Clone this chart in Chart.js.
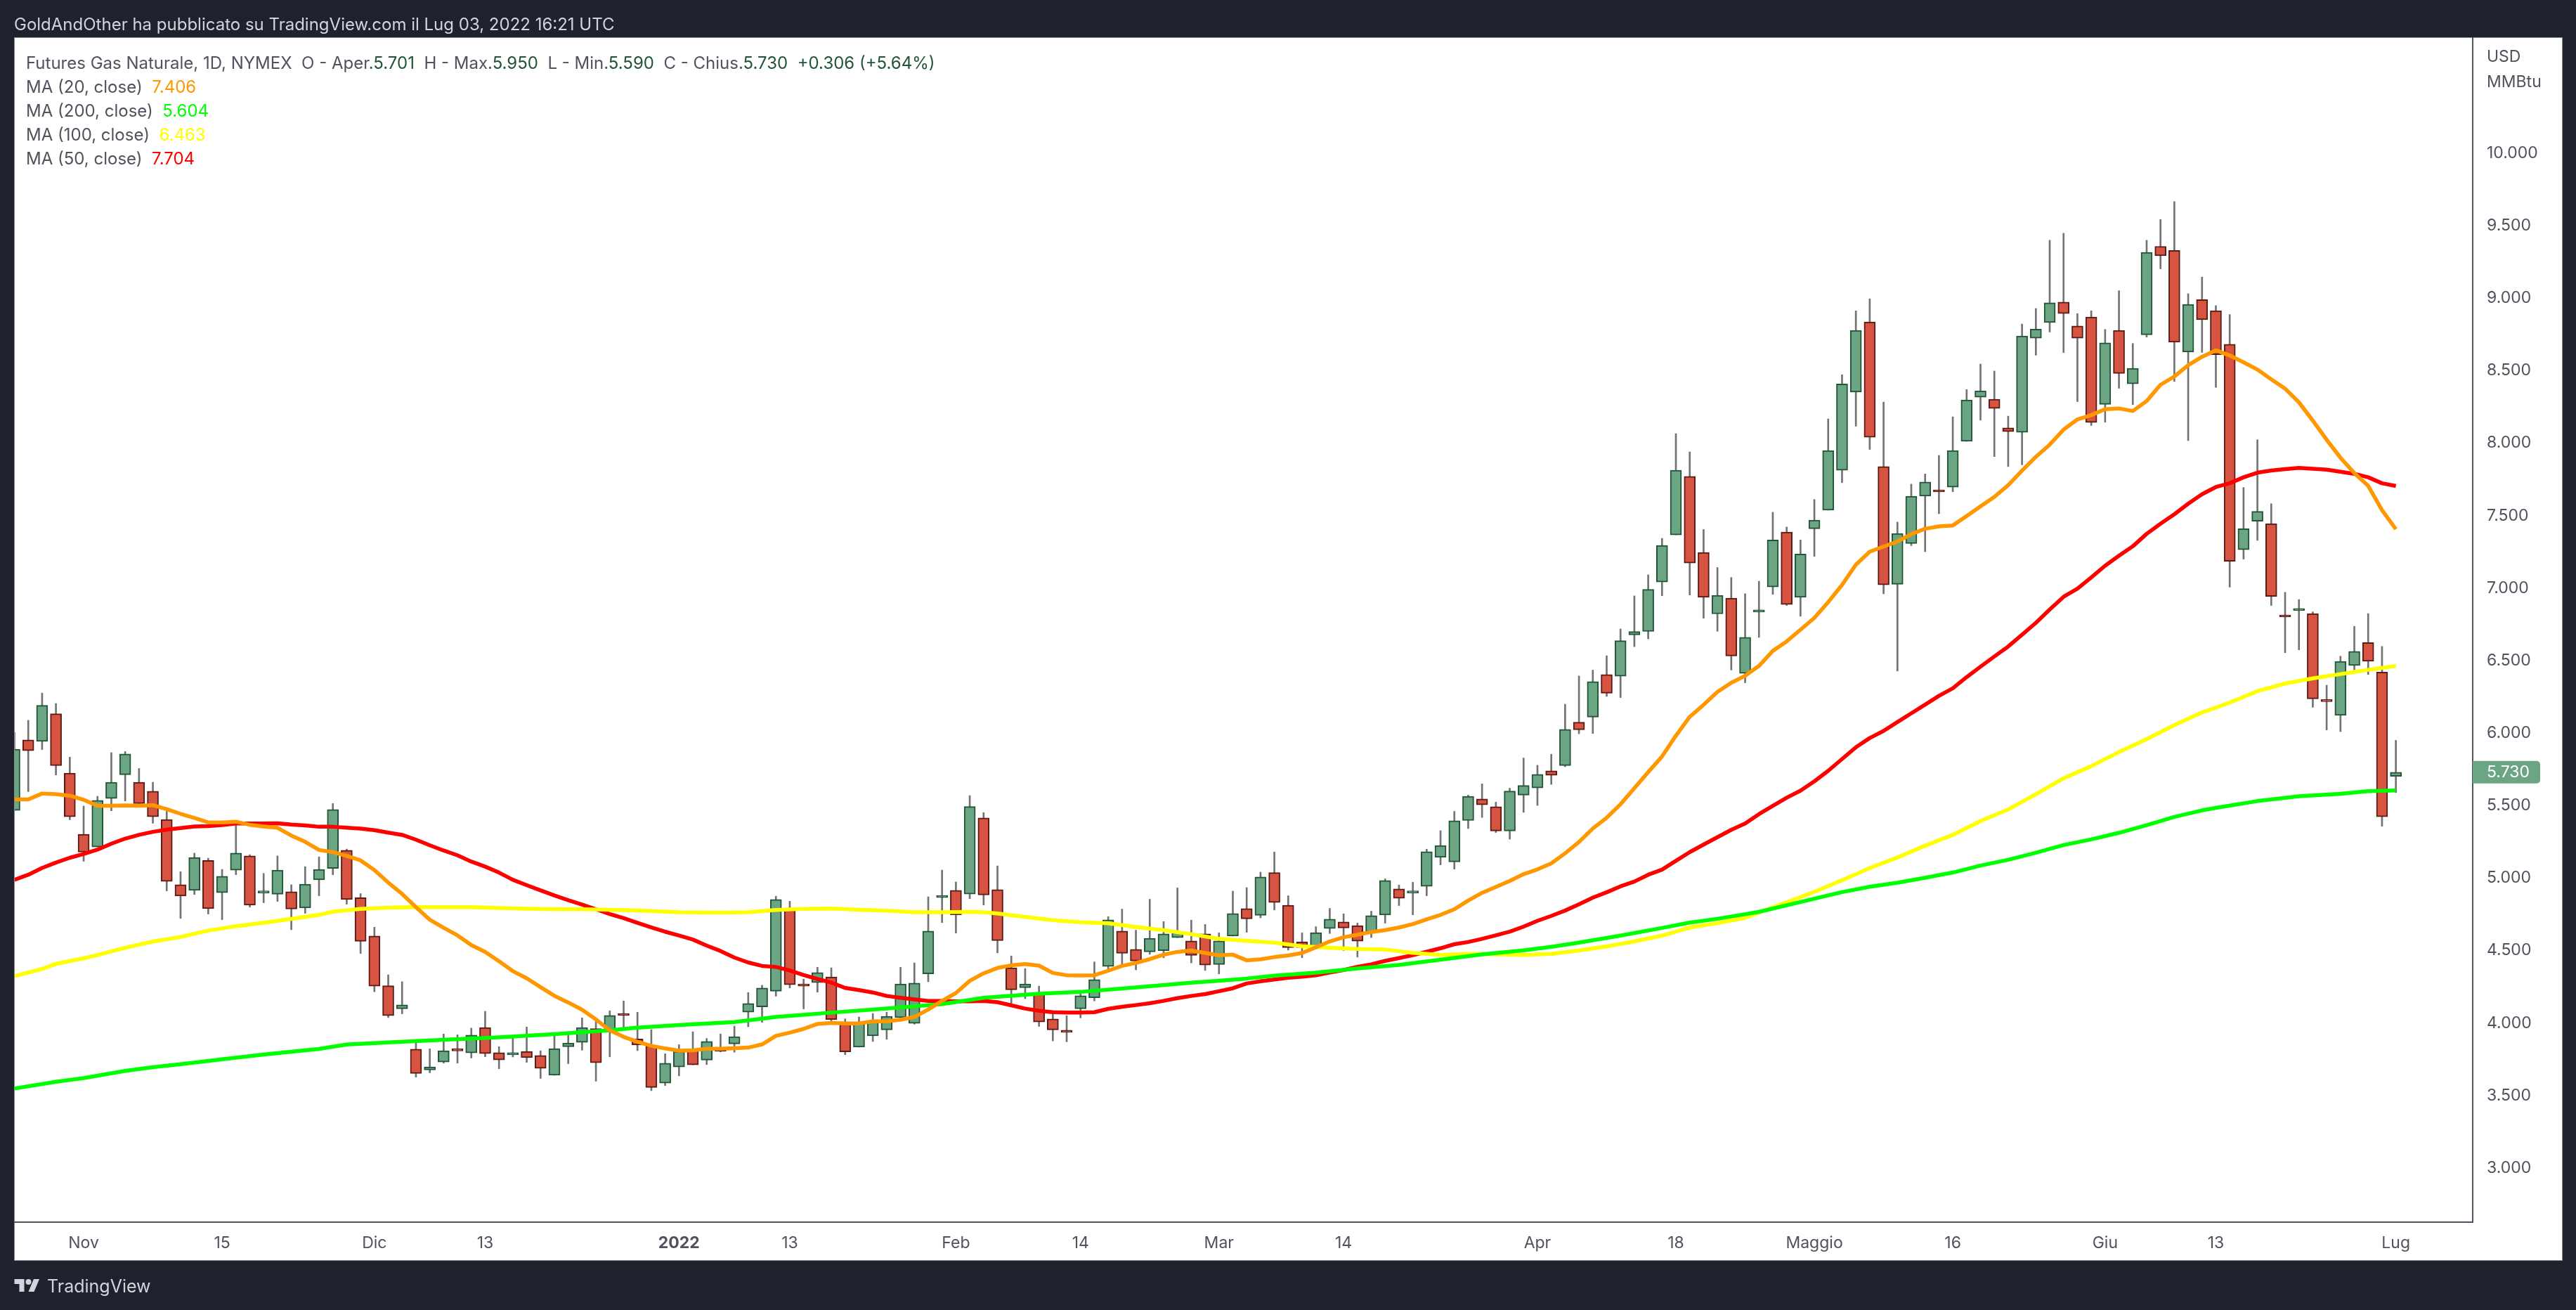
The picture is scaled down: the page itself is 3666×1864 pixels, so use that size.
<!DOCTYPE html>
<html>
<head>
<meta charset="utf-8">
<title>Futures Gas Naturale</title>
<script src="https://cdn.jsdelivr.net/npm/chart.js@4"></script>
<style>
  html, body { margin: 0; padding: 0; background: #1e222d; width: 3666px; height: 1864px; overflow: hidden; }
  body { position: relative; font-family: Inter, sans-serif; }
  #panel { position: absolute; left: 20px; top: 53px; width: 3625px; height: 1739px; background: #fff; border: 1px solid #8a8d96; }
  canvas { position: absolute; left: 0; top: 0; }
  .txt { position: absolute; white-space: pre; font-size: 24px; line-height: 34px; color: #50535e; }
  .up { color: #225437; }
  #published { left: 20px; top: 18px; color: #d1d4dc; }
  #brand { left: 67px; top: 1811px; color: #d1d4dc; font-size: 25px; line-height: 38px; }
  #logo { position: absolute; left: 20px; top: 1816px; }
  #unit { left: 3539px; top: 62px; line-height: 36px; font-size: 23px; }
</style>
</head>
<body>
<div id="panel"></div>
<canvas id="chart" width="3666" height="1864"></canvas>
<div class="txt" id="published">GoldAndOther ha pubblicato su TradingView.com il Lug 03, 2022 16:21 UTC</div>
<div class="txt" style="left:37px;top:73px">Futures Gas Naturale, 1D, NYMEX  O - Aper.<span class="up">5.701</span>  H - Max.<span class="up">5.950</span>  L - Min.<span class="up">5.590</span>  C - Chius.<span class="up">5.730</span>  <span class="up">+0.306 (+5.64%)</span></div>
<div class="txt" style="left:37px;top:107px">MA (20, close)  <span style="color:#ff9800">7.406</span></div>
<div class="txt" style="left:37px;top:141px">MA (200, close)  <span style="color:#00ff00">5.604</span></div>
<div class="txt" style="left:37px;top:175px">MA (100, close)  <span style="color:#ffff00">6.463</span></div>
<div class="txt" style="left:37px;top:209px">MA (50, close)  <span style="color:#ff0000">7.704</span></div>
<div class="txt" id="unit">USD
MMBtu</div>
<svg id="logo" width="37" height="28" viewBox="0 0 36 28" fill="#d1d4dc"><path d="M14 22H7V11H0V4h14v18zM28 22h-8l7.5-18h8L28 22z"/><circle cx="20" cy="8" r="4"/></svg>
<div class="txt" id="brand">TradingView</div>
<script>
// Daily bars from 25 Oct 2021 to 1 Jul 2022
const openPrices = [
  5.466, 5.953, 5.943, 6.133, 5.724, 5.302, 5.215, 5.549, 5.713, 5.661,
  5.599, 5.404, 4.954, 4.915, 5.122, 4.899, 5.055, 5.153, 4.897, 4.889,
  4.906, 4.794, 4.988, 5.066, 5.192, 4.865, 4.601, 4.257, 4.099, 3.82,
  3.677, 3.731, 3.811, 3.794, 3.969, 3.796, 3.781, 3.805, 3.776, 3.64,
  3.837, 3.867, 3.962, 3.955, 4.056, 3.89, 3.843, 3.586, 3.697, 3.816,
  3.745, 3.834, 3.856, 4.075, 4.112, 4.22, 4.78, 4.261, 4.279, 4.318,
  4.008, 3.834, 3.912, 3.953, 4.038, 3.998, 4.339, 4.865, 4.916, 4.89,
  5.415, 4.92, 4.381, 4.244, 4.2, 4.029, 3.941, 4.099, 4.175, 4.391,
  4.634, 4.508, 4.491, 4.5, 4.589, 4.567, 4.615, 4.404, 4.6, 4.789,
  4.743, 5.038, 4.813, 4.561, 4.526, 4.652, 4.698, 4.672, 4.628, 4.745,
  4.925, 4.897, 4.943, 5.143, 5.112, 5.397, 5.546, 5.492, 5.325, 5.572,
  5.622, 5.739, 5.776, 6.075, 6.11, 6.403, 6.392, 6.677, 6.701, 7.042,
  7.367, 7.77, 7.246, 6.822, 6.931, 6.412, 6.835, 7.008, 7.386, 6.936,
  7.409, 7.537, 7.812, 8.351, 8.835, 7.838, 7.026, 7.307, 7.634, 7.666,
  7.696, 8.012, 8.316, 8.302, 8.105, 8.074, 8.724, 8.831, 8.972, 8.807,
  8.87, 8.267, 8.777, 8.408, 8.747, 9.357, 9.329, 8.628, 8.989, 8.913,
  8.681, 7.265, 7.461, 7.444, 6.802, 6.845, 6.824, 6.219, 6.122, 6.466,
  6.624, 6.42, 5.701
];
const highPrices = [
  6.005, 6.088, 6.276, 6.204, 5.834, 5.497, 5.564, 5.865, 5.873, 5.756,
  5.661, 5.46, 5.044, 5.172, 5.137, 5.06, 5.384, 5.161, 5.032, 5.153,
  4.954, 5.079, 5.146, 5.514, 5.2, 4.893, 4.661, 4.333, 4.285, 3.863,
  3.822, 3.924, 3.919, 3.965, 4.081, 3.837, 3.902, 3.973, 3.809, 3.913,
  3.934, 4.036, 4.01, 4.085, 4.153, 4.075, 3.955, 3.788, 3.851, 3.94,
  3.894, 3.925, 3.979, 4.211, 4.261, 4.875, 4.84, 4.303, 4.385, 4.381,
  4.029, 4.042, 4.066, 4.075, 4.385, 4.415, 4.871, 5.055, 4.973, 5.569,
  5.452, 5.084, 4.463, 4.376, 4.255, 4.075, 4.051, 4.215, 4.422, 4.734,
  4.786, 4.641, 4.854, 4.7, 4.932, 4.71, 4.68, 4.622, 4.91, 4.934,
  5.041, 5.18, 4.878, 4.622, 4.665, 4.791, 4.754, 4.69, 4.772, 4.995,
  4.952, 4.971, 5.199, 5.327, 5.46, 5.572, 5.65, 5.524, 5.62, 5.828,
  5.778, 5.854, 6.199, 6.394, 6.434, 6.533, 6.718, 6.946, 7.091, 7.343,
  8.065, 7.939, 7.404, 7.142, 7.073, 6.961, 7.047, 7.523, 7.421, 7.332,
  7.611, 8.167, 8.471, 8.912, 8.995, 8.283, 7.455, 7.717, 7.787, 7.915,
  8.181, 8.369, 8.545, 8.497, 8.186, 8.821, 8.928, 9.399, 9.447, 8.893,
  8.912, 8.784, 9.051, 8.687, 9.399, 9.542, 9.665, 9.03, 9.145, 8.948,
  8.886, 7.694, 8.023, 7.582, 6.971, 6.921, 6.836, 6.33, 6.53, 6.736,
  6.824, 6.598, 5.95
];
const lowPrices = [
  5.466, 5.596, 5.886, 5.711, 5.402, 5.116, 5.215, 5.464, 5.531, 5.514,
  5.378, 4.912, 4.722, 4.887, 4.752, 4.713, 5.023, 4.8, 4.83, 4.839,
  4.644, 4.757, 4.878, 5.023, 4.82, 4.48, 4.216, 4.038, 4.064, 3.627,
  3.657, 3.724, 3.724, 3.759, 3.768, 3.685, 3.766, 3.729, 3.618, 3.64,
  3.72, 3.813, 3.599, 3.767, 3.964, 3.81, 3.534, 3.569, 3.636, 3.712,
  3.714, 3.801, 3.799, 3.975, 4.005, 4.185, 4.242, 4.098, 4.213, 4.01,
  3.782, 3.834, 3.873, 3.888, 4.029, 3.992, 4.285, 4.693, 4.621, 4.858,
  4.814, 4.484, 4.112, 4.168, 3.977, 3.877, 3.871, 4.036, 4.153, 4.372,
  4.4, 4.367, 4.474, 4.45, 4.589, 4.415, 4.363, 4.339, 4.6, 4.626,
  4.726, 4.78, 4.503, 4.451, 4.526, 4.618, 4.501, 4.455, 4.59, 4.689,
  4.81, 4.747, 4.878, 5.091, 5.062, 5.342, 5.418, 5.314, 5.268, 5.453,
  5.501, 5.646, 5.768, 5.995, 5.997, 6.253, 6.245, 6.596, 6.65, 6.947,
  7.367, 6.952, 6.792, 6.702, 6.435, 6.347, 6.66, 6.957, 6.88, 6.806,
  7.219, 7.537, 7.727, 8.116, 7.956, 6.961, 6.428, 7.293, 7.251, 7.513,
  7.664, 8.012, 8.158, 7.907, 7.838, 7.85, 8.606, 8.766, 8.624, 8.286,
  8.121, 8.144, 8.378, 8.265, 8.731, 9.202, 8.425, 8.017, 8.625, 8.384,
  7.006, 7.2, 7.329, 6.88, 6.554, 6.574, 6.178, 6.022, 6.01, 6.436,
  6.404, 5.358, 5.59
];
const closePrices = [
  5.888, 5.878, 6.191, 5.776, 5.423, 5.179, 5.536, 5.661, 5.856, 5.514,
  5.423, 4.977, 4.876, 5.142, 4.789, 5.012, 5.172, 4.813, 4.9, 5.055,
  4.787, 4.958, 5.06, 5.473, 4.852, 4.564, 4.255, 4.051, 4.125, 3.653,
  3.698, 3.809, 3.808, 3.917, 3.789, 3.746, 3.796, 3.761, 3.688, 3.824,
  3.863, 3.969, 3.727, 4.053, 4.052, 3.849, 3.556, 3.723, 3.806, 3.712,
  3.873, 3.805, 3.906, 4.135, 4.242, 4.853, 4.265, 4.255, 4.348, 4.025,
  3.801, 4.0, 4.01, 4.047, 4.27, 4.276, 4.634, 4.868, 4.747, 5.493,
  4.884, 4.569, 4.229, 4.27, 4.007, 3.953, 3.937, 4.188, 4.3, 4.712,
  4.481, 4.428, 4.585, 4.615, 4.63, 4.467, 4.4, 4.567, 4.756, 4.719,
  5.008, 4.832, 4.52, 4.52, 4.624, 4.717, 4.656, 4.565, 4.741, 4.984,
  4.86, 4.902, 5.182, 5.225, 5.396, 5.564, 5.505, 5.325, 5.6, 5.639,
  5.715, 5.709, 6.026, 6.023, 6.355, 6.275, 6.637, 6.7, 6.991, 7.294,
  7.813, 7.173, 6.936, 6.95, 6.532, 6.66, 6.84, 7.332, 6.887, 7.235,
  7.469, 7.949, 8.408, 8.777, 8.04, 7.022, 7.376, 7.634, 7.731, 7.663,
  7.949, 8.297, 8.36, 8.239, 8.079, 8.738, 8.786, 8.967, 8.893, 8.724,
  8.142, 8.691, 8.48, 8.515, 9.315, 9.292, 8.696, 8.957, 8.851, 8.61,
  7.185, 7.409, 7.529, 6.942, 6.8, 6.848, 6.236, 6.217, 6.495, 6.563,
  6.495, 5.423, 5.73
];

// MA 20 and MA 50 have a value on every bar
const ma20Values = [
  5.542, 5.542, 5.583, 5.579, 5.568, 5.54, 5.499, 5.499, 5.501, 5.499,
  5.503, 5.475, 5.443, 5.414, 5.384, 5.384, 5.389, 5.367, 5.356, 5.347,
  5.293, 5.25, 5.194, 5.179, 5.153, 5.122, 5.055, 4.969, 4.891, 4.8,
  4.713, 4.657, 4.605, 4.538, 4.491, 4.426, 4.358, 4.309, 4.248, 4.188,
  4.142, 4.092, 4.025, 3.95, 3.905, 3.871, 3.843, 3.825, 3.81, 3.812,
  3.823, 3.823, 3.827, 3.831, 3.853, 3.912, 3.934, 3.96, 3.994, 4.001,
  3.998, 3.998, 4.012, 4.012, 4.023, 4.042, 4.094, 4.153, 4.207, 4.291,
  4.343, 4.38, 4.398, 4.407, 4.396, 4.346, 4.33, 4.328, 4.33, 4.361,
  4.394, 4.415, 4.441, 4.472, 4.491, 4.5, 4.483, 4.468, 4.472, 4.433,
  4.44, 4.455, 4.466, 4.483, 4.522, 4.563, 4.592, 4.609, 4.628, 4.641,
  4.659, 4.683, 4.715, 4.746, 4.785, 4.845, 4.898, 4.939, 4.98, 5.027,
  5.06, 5.101, 5.171, 5.249, 5.342, 5.416, 5.509, 5.62, 5.731, 5.839,
  5.982, 6.112, 6.195, 6.284, 6.347, 6.395, 6.463, 6.567, 6.632, 6.713,
  6.794, 6.903, 7.022, 7.161, 7.251, 7.286, 7.321, 7.372, 7.409, 7.425,
  7.432, 7.497, 7.564, 7.629, 7.71, 7.81, 7.905, 7.989, 8.093, 8.163,
  8.193, 8.234, 8.239, 8.221, 8.29, 8.402, 8.459, 8.537, 8.595, 8.64,
  8.604, 8.557, 8.507, 8.44, 8.375, 8.281, 8.155, 8.023, 7.899, 7.793,
  7.705, 7.538, 7.406
];
const ma50Values = [
  4.988, 5.023, 5.07, 5.107, 5.14, 5.166, 5.196, 5.237, 5.272, 5.298,
  5.319, 5.334, 5.345, 5.356, 5.358, 5.365, 5.376, 5.376, 5.376, 5.378,
  5.369, 5.363, 5.354, 5.354, 5.347, 5.341, 5.33, 5.313, 5.298, 5.265,
  5.226, 5.19, 5.157, 5.114, 5.079, 5.038, 4.988, 4.951, 4.915, 4.88,
  4.848, 4.817, 4.785, 4.752, 4.724, 4.691, 4.66, 4.63, 4.604, 4.576,
  4.534, 4.497, 4.452, 4.418, 4.394, 4.387, 4.363, 4.331, 4.304, 4.279,
  4.242, 4.228, 4.211, 4.187, 4.174, 4.163, 4.153, 4.153, 4.15, 4.15,
  4.153, 4.144, 4.122, 4.1, 4.085, 4.075, 4.072, 4.072, 4.075, 4.098,
  4.113, 4.124, 4.137, 4.153, 4.172, 4.187, 4.2, 4.22, 4.24, 4.273,
  4.288, 4.3, 4.312, 4.32, 4.329, 4.348, 4.366, 4.388, 4.405, 4.429,
  4.448, 4.468, 4.492, 4.516, 4.544, 4.559, 4.581, 4.605, 4.631, 4.665,
  4.705, 4.739, 4.776, 4.819, 4.865, 4.902, 4.943, 4.976, 5.023, 5.058,
  5.119, 5.179, 5.231, 5.282, 5.333, 5.376, 5.441, 5.498, 5.554, 5.603,
  5.667, 5.74, 5.821, 5.902, 5.966, 6.015, 6.076, 6.136, 6.196, 6.257,
  6.309, 6.386, 6.458, 6.528, 6.597, 6.678, 6.76, 6.852, 6.94, 6.996,
  7.073, 7.154, 7.223, 7.288, 7.374, 7.444, 7.509, 7.582, 7.647, 7.697,
  7.723, 7.764, 7.796, 7.811, 7.82, 7.829, 7.823, 7.817, 7.802, 7.788,
  7.764, 7.723, 7.704
];

// MA 100 and MA 200 are smooth, so they were only read at these bars
const ma100Bars = [
  0, 2, 3, 5, 6, 8, 10, 12, 14, 16, 18, 20, 22, 23, 25, 27, 29, 31, 33, 35,
  37, 39, 41, 43, 45, 48, 51, 53, 55, 57, 59, 61, 63, 65, 67, 69, 70, 71, 73, 75,
  77, 79, 81, 83, 85, 87, 89, 91, 93, 95, 97, 99, 101, 103, 105, 107, 109, 111, 113, 115,
  117, 119, 121, 123, 125, 130, 132, 134, 136, 138, 140, 142, 144, 146, 148, 150, 152, 154, 156, 158,
  160, 162, 164, 166, 168, 170, 172
];
const ma100Values = [
  4.324, 4.374, 4.408, 4.447, 4.469, 4.519, 4.562, 4.594, 4.638, 4.668, 4.692, 4.718, 4.746, 4.768, 4.787, 4.796, 4.8, 4.8, 4.8, 4.794,
  4.789, 4.785, 4.785, 4.781, 4.777, 4.765, 4.762, 4.765, 4.78, 4.788, 4.79, 4.782, 4.775, 4.765, 4.764, 4.767, 4.765, 4.756, 4.732, 4.71,
  4.695, 4.688, 4.663, 4.641, 4.613, 4.581, 4.567, 4.555, 4.529, 4.52, 4.511, 4.507, 4.485, 4.47, 4.477, 4.474, 4.47, 4.477, 4.5, 4.529,
  4.563, 4.603, 4.659, 4.689, 4.726, 4.905, 4.985, 5.069, 5.142, 5.223, 5.298, 5.393, 5.473, 5.578, 5.688, 5.772, 5.869, 5.958, 6.055, 6.142,
  6.21, 6.289, 6.342, 6.377, 6.407, 6.436, 6.463
];
const ma200Bars = [
  0, 3, 5, 8, 10, 12, 15, 18, 22, 24, 27, 31, 35, 39, 43, 45, 48, 52, 55, 59,
  63, 67, 70, 74, 77, 81, 85, 87, 89, 91, 94, 97, 100, 103, 106, 109, 111, 113, 116, 119,
  121, 123, 126, 132, 134, 136, 138, 140, 142, 144, 146, 148, 150, 152, 154, 156, 158, 159, 162, 165,
  168, 170, 172
];
const ma200Values = [
  3.549, 3.595, 3.621, 3.67, 3.696, 3.716, 3.75, 3.783, 3.822, 3.852, 3.867, 3.885, 3.902, 3.924, 3.95, 3.968, 3.986, 4.007, 4.042, 4.072,
  4.101, 4.131, 4.174, 4.202, 4.215, 4.246, 4.279, 4.292, 4.307, 4.327, 4.348, 4.377, 4.401, 4.437, 4.474, 4.502, 4.526, 4.555, 4.603, 4.656,
  4.693, 4.719, 4.767, 4.903, 4.94, 4.968, 5.002, 5.038, 5.086, 5.126, 5.175, 5.228, 5.267, 5.312, 5.365, 5.422, 5.467, 5.484, 5.531, 5.564,
  5.581, 5.599, 5.604
];

const xTickBars = [5, 15, 26, 34, 48, 56, 68, 77, 87, 96, 110, 120, 130, 140, 151, 159, 172];
const xTickLabels = ["Nov", "15", "Dic", "13", "2022", "13", "Feb", "14", "Mar", "14", "Apr", "18", "Maggio", "16", "Giu", "13", "Lug"];
const yTickValues = [3, 3.5, 4, 4.5, 5, 5.5, 6, 6.5, 7, 7.5, 8, 8.5, 9, 9.5, 10];

const UP_FILL = "#6ba583";
const UP_EDGE = "#225437";
const DOWN_FILL = "#d75442";
const DOWN_EDGE = "#5b1a13";
const AXIS_TEXT = "#50535e";
const AXIS_FONT = "Inter, sans-serif";

const isUp = (i) => closePrices[i] >= openPrices[i];

function barPoints(values) {
    return values.map((y, x) => ({ x, y }));
}

function maLine(label, color, points, order) {
    return {
        type: "line",
        label,
        data: points,
        borderColor: color,
        borderWidth: 5.5,
        borderJoinStyle: "round",
        pointRadius: 0,
        tension: 0,
        order,
    };
}

// Last price tag on the right axis
const lastPriceTag = {
    id: "lastPriceTag",
    afterDraw(chart) {
        const { ctx, scales } = chart;
        const last = closePrices[closePrices.length - 1];
        const y = scales.y.getPixelForValue(last);
        const left = scales.y.left;
        ctx.save();
        ctx.fillStyle = UP_FILL;
        ctx.beginPath();
        ctx.roundRect(left, y - 16, 96, 32, [0, 5, 5, 0]);
        ctx.fill();
        ctx.fillStyle = "#fff";
        ctx.font = `23px ${AXIS_FONT}`;
        ctx.textAlign = "left";
        ctx.textBaseline = "middle";
        ctx.fillText(last.toFixed(3), left + 20, y);
        ctx.restore();
    },
};

new Chart(document.getElementById("chart"), {
    type: "bar",
    data: {
        datasets: [
            maLine("MA (20, close)", "#ff9800", barPoints(ma20Values), 1),
            maLine("MA (200, close)", "#00ff00", ma200Bars.map((x, i) => ({ x, y: ma200Values[i] })), 2),
            maLine("MA (100, close)", "#ffff00", ma100Bars.map((x, i) => ({ x, y: ma100Values[i] })), 3),
            maLine("MA (50, close)", "#ff0000", barPoints(ma50Values), 4),
            {
                label: "Body",
                data: openPrices.map((o, i) => ({ x: i, y: [o, closePrices[i]] })),
                backgroundColor: openPrices.map((o, i) => (isUp(i) ? UP_FILL : DOWN_FILL)),
                borderColor: openPrices.map((o, i) => (isUp(i) ? UP_EDGE : DOWN_EDGE)),
                borderWidth: 2,
                borderSkipped: false,
                barThickness: 16,
                minBarLength: 3,
                grouped: false,
                order: 9,
            },
            {
                label: "Wick",
                data: lowPrices.map((l, i) => ({ x: i, y: [l, highPrices[i]] })),
                backgroundColor: "#737373",
                barThickness: 2,
                grouped: false,
                order: 10,
            },
        ],
    },
    options: {
        responsive: false,
        animation: false,
        devicePixelRatio: 1,
        layout: { padding: { left: 21, top: 54, right: 20, bottom: 70 } },
        plugins: { legend: { display: false }, tooltip: { enabled: false } },
        scales: {
            x: {
                type: "linear",
                offset: false,
                min: 0.025,
                max: 177.55,
                afterFit: (scale) => { scale.height = 55; },
                afterBuildTicks: (scale) => { scale.ticks = xTickBars.map((value) => ({ value })); },
                grid: { display: false, drawTicks: false },
                border: { display: true, color: "#50535e", width: 2 },
                ticks: {
                    autoSkip: false,
                    maxRotation: 0,
                    padding: 16,
                    color: AXIS_TEXT,
                    font: (c) => ({
                        family: AXIS_FONT,
                        size: 23,
                        weight: c.tick && c.tick.value === 48 ? "bold" : "normal",
                    }),
                    callback: (v) => xTickLabels[xTickBars.indexOf(v)],
                },
            },
            y: {
                position: "right",
                min: 2.627,
                max: 10.794,
                afterFit: (scale) => { scale.width = 127; },
                afterBuildTicks: (scale) => { scale.ticks = yTickValues.map((value) => ({ value })); },
                grid: { display: false, drawTicks: false },
                border: { display: true, color: "#50535e", width: 2 },
                ticks: {
                    padding: 20,
                    color: AXIS_TEXT,
                    font: { family: AXIS_FONT, size: 23 },
                    callback: (v) => v.toFixed(3),
                },
            },
        },
    },
    plugins: [lastPriceTag],
});
</script>
</body>
</html>
